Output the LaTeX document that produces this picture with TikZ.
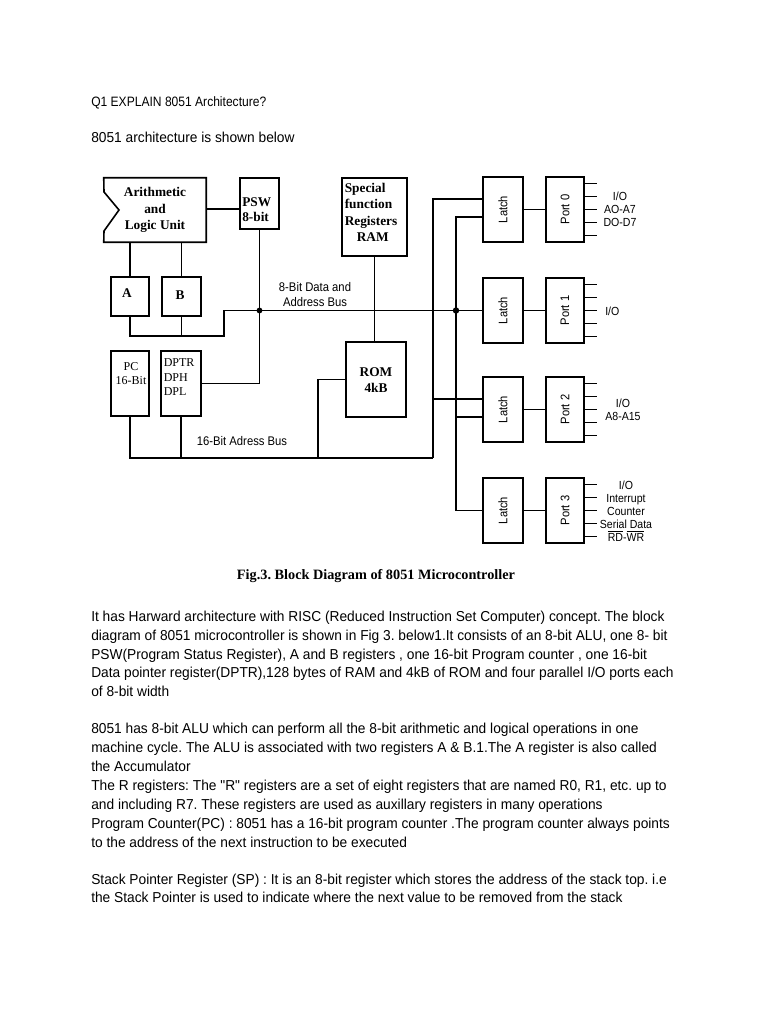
\documentclass[tikz,border=0pt]{standalone}
\usepackage{fontspec}
\setmainfont{Liberation Serif}
\newfontfamily\bodyf[FakeStretch=0.955]{Liberation Sans}
\newfontfamily\headf[FakeStretch=0.887]{Liberation Sans}
\newfontfamily\labf[FakeStretch=0.9]{Liberation Sans}
\usetikzlibrary{fit,calc}
\frenchspacing
\begin{document}
\begin{tikzpicture}[x=0.75pt,y=-0.75pt,
  box/.style={draw, line width=1.2pt, inner sep=0pt},
  wire/.style={line width=1.4pt},
  thinwire/.style={line width=0.9pt},
  pinwire/.style={line width=1pt},
  bodytxt/.style={anchor=mid west, inner sep=0pt, font=\bodyf\fontsize{10.8pt}{13pt}\selectfont},
  boldlab/.style={inner sep=0pt, font=\bfseries\fontsize{10pt}{12.4pt}\selectfont},
  reglab/.style={inner sep=0pt, font=\fontsize{9pt}{10.9pt}\selectfont},
  buslab/.style={inner sep=0pt, align=center, font=\labf\fontsize{9.4pt}{11.3pt}\selectfont},
  rotlab/.style={inner sep=0pt, rotate=90, font=\labf\fontsize{9.3pt}{11pt}\selectfont},
  iolab/.style={inner sep=0pt, align=center, font=\labf\fontsize{8.8pt}{9.75pt}\selectfont}
]
\fill[white] (0,0) rectangle (768,1024);
\useasboundingbox (0,0) rectangle (768,1024);

% header text
\node[anchor=mid west, inner sep=0pt, font=\headf\fontsize{10.2pt}{12pt}\selectfont] (q1) at (91,103) {Q1 EXPLAIN 8051 Architecture?};
\node[bodytxt] (q2) at (91,139) {8051 architecture is shown below};

% ALU
\node[inner sep=0pt, fit={(104,178) (206,242)}] (alu) {};
\draw[line width=1.2pt] (alu.north west) -- (alu.north east) -- (alu.south east) -- (alu.south west) -- (104,231) -- (119,210) -- (104,192) -- cycle;
\node[boldlab, align=center] (alut) at (155,210) {Arithmetic\\and\\Logic Unit};

% PSW
\node[box, fit={(240,178) (279,229)}] (psw) {};
\node[boldlab, align=left, anchor=west, font=\bfseries\fontsize{10pt}{11.3pt}\selectfont] (pswt) at (242,209.5) {PSW\\8-bit};

% A, B
\node[box, fit={(111,277) (149,316)}] (a) {};
\node[boldlab] (at) at (127,293) {A};
\node[box, fit={(162,277) (201,316)}] (b) {};
\node[boldlab] (bt) at (180,295) {B};

% PC, DPTR
\node[box, fit={(111,351) (149,416)}] (pc) {};
\node[reglab, align=center] (pct) at (131,373.5) {PC\\16-Bit};
\node[box, fit={(161,351) (201,416)}] (dptr) {};
\node[reglab, align=left, anchor=west] (dptrt) at (163.5,377.5) {DPTR\\DPH\\DPL};

% SFR
\node[box, fit={(342,178) (407,256)}] (sfr) {};
\node[boldlab, align=left, anchor=west, font=\bfseries\fontsize{10pt}{12.2pt}\selectfont] (sfrt) at (344.5,212.5) {Special\\function\\Registers\\\hspace*{9pt}RAM};

% ROM
\node[box, fit={(346,342) (406,417)}] (rom) {};
\node[boldlab, align=center, font=\bfseries\fontsize{10pt}{12pt}\selectfont] (romt) at (376,380) {ROM\\4kB};

% Latches and ports
\node[box, fit={(483,177) (523,242)}] (latch0) {};
\node[box, fit={(483,278) (523,343)}] (latch1) {};
\node[box, fit={(483,377) (523,442)}] (latch2) {};
\node[box, fit={(483,478) (523,543)}] (latch3) {};
\node[box, fit={(546,177) (584,242)}] (port0) {};
\node[box, fit={(546,278) (584,343)}] (port1) {};
\node[box, fit={(546,377) (584,442)}] (port2) {};
\node[box, fit={(546,478) (584,543)}] (port3) {};
\foreach \i in {0,1,2,3} {
  \node[rotlab] (latcht\i) at (latch\i.center) {Latch};
  \node[rotlab] (portt\i) at (port\i.center) {Port \i};
  \draw[wire] (latch\i.east) -- (port\i.west);
  \foreach \d in {-26,-13,0,13,26}
    \draw[pinwire] ($(port\i.east)+(0,\d)$) -- ++(12,0);
}

% coordinates for wires
\coordinate (j1) at (224,336);
\coordinate (busL) at (224,310.5);
\coordinate (v1) at (433,458);
\coordinate (v2) at (456,310.5);
\coordinate (rj) at (318,458);

% ALU connections
\draw[thinwire] (alu.east |- 0,209) -- (psw.west |- 0,209);
\draw[wire] (a.north) -- (a.north |- alu.south);
\draw[thinwire] (b.north) -- (b.north |- alu.south);

% data bus
\draw[wire] (a.south) |- (j1) -- (busL) -- (375,310.5);
\draw[thinwire] (375,310.5) -- (latch1.west);
\draw[wire] (b.south) -- (b.south |- j1);
\draw[wire] (psw.south) |- (dptr.east);
\draw[wire] (sfr.south) -- (sfr.south |- rom.north);
\fill (psw.south |- busL) circle[radius=2.2pt];
\fill (v2) circle[radius=2.4pt];

% address bus
\draw[wire] (pc.south) |- (v1);
\draw[wire] (dptr.south) -- (dptr.south |- v1);
\draw[wire] (rom.west) -| (rj);
\draw[thinwire] (v1) |- ([yshift=7.9pt]latch0.west);
\draw[thinwire] ([yshift=7.9pt]latch2.west -| v1) -- ([yshift=7.9pt]latch2.west);

% thick vertical bus to latches
\draw[wire] ([yshift=-5.6pt]latch0.west) -| (v2) |- (latch3.west);
\draw[wire] ([yshift=-5.6pt]latch2.west) -- ([yshift=-5.6pt]latch2.west -| v2);

% bus labels
\node[buslab] (dbl) at (315,294.5) {8-Bit Data and\\Address Bus};
\node[buslab] (abl) at (242,441) {16-Bit Adress Bus};

% port labels
\node[iolab] (io0) at (620,209) {I/O\\AO-A7\\DO-D7};
\node[iolab, anchor=west] (io1) at (605,311) {I/O};
\node[iolab] (io2) at (623,409.5) {I/O\\A8-A15};
\node[iolab] (io3) at (626,511) {I/O\\Interrupt\\Counter\\Serial Data\\$\overline{\hbox{RD}}$-$\overline{\hbox{WR}}$};

% caption
\node[inner sep=0pt, font=\bfseries\fontsize{10.7pt}{13pt}\selectfont] (cap) at (376,576) {Fig.3. Block Diagram of 8051 Microcontroller};

% body text
\node[bodytxt] (t1) at (91,618) {It has Harward architecture with RISC (Reduced Instruction Set Computer) concept. The block};
\node[bodytxt] (t2) at (91,637) {diagram of 8051 microcontroller is shown in Fig 3. below1.It consists of an 8-bit ALU, one 8- bit};
\node[bodytxt] (t3) at (91,656) {PSW(Program Status Register), A and B registers , one 16-bit Program counter , one 16-bit};
\node[bodytxt] (t4) at (91,674) {Data pointer register(DPTR),128 bytes of RAM and 4kB of ROM and four parallel I/O ports each};
\node[bodytxt] (t5) at (91,693) {of 8-bit width};
\node[bodytxt] (t6) at (91,730) {8051 has 8-bit ALU which can perform all the 8-bit arithmetic and logical operations in one};
\node[bodytxt] (t7) at (91,749) {machine cycle. The ALU is associated with two registers A \& B.1.The A register is also called};
\node[bodytxt] (t8) at (91,768) {the Accumulator};
\node[bodytxt] (t9) at (91,787) {The R registers: The \symbol{34}R\symbol{34} registers are a set of eight registers that are named R0, R1, etc. up to};
\node[bodytxt] (t10) at (91,806) {and including R7. These registers are used as auxillary registers in many operations};
\node[bodytxt] (t11) at (91,825) {Program Counter(PC) : 8051 has a 16-bit program counter .The program counter always points};
\node[bodytxt] (t12) at (91,844) {to the address of the next instruction to be executed};
\node[bodytxt] (t13) at (91,881) {Stack Pointer Register (SP) : It is an 8-bit register which stores the address of the stack top. i.e};
\node[bodytxt] (t14) at (91,899) {the Stack Pointer is used to indicate where the next value to be removed from the stack};
\end{tikzpicture}
\end{document}
